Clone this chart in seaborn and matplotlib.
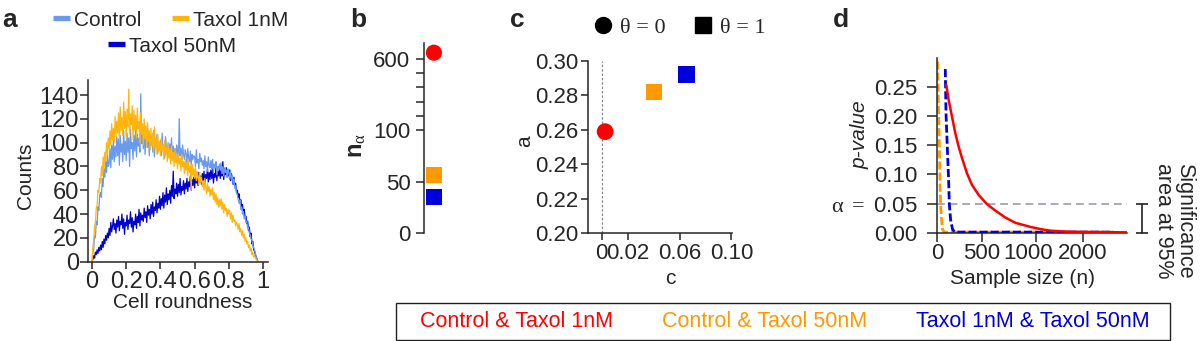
import numpy as np
import pandas as pd
import matplotlib
matplotlib.use("Agg")
import matplotlib.pyplot as plt
import seaborn as sns
from matplotlib.lines import Line2D
from matplotlib.patches import Rectangle
from matplotlib import transforms

# ------------------------------------------------------------------ data
# panel a : histogram counts, bins every 0.005 of cell roundness (0 .. 0.97)
roundness_step = 0.005
control_counts = [
    0, 8, 10, 22, 20, 34, 31, 46, 43, 56,
    58, 54, 70, 63, 78, 71, 84, 75, 90, 80,
    82, 95, 79, 98, 86, 102, 84, 97, 88, 105,
    89, 103, 81, 106, 92, 99, 84, 110, 90, 101,
    85, 108, 92, 104, 80, 111, 95, 100, 86, 106,
    93, 114, 88, 107, 97, 104, 92, 141, 99, 113,
    95, 112, 90, 106, 101, 96, 109, 89, 103, 98,
    105, 92, 110, 88, 101, 96, 107, 91, 99, 94,
    102, 89, 108, 93, 98, 87, 105, 95, 90, 100,
    88, 99, 92, 104, 85, 97, 91, 95, 87, 98,
    93, 84, 120, 89, 95, 83, 98, 90, 86, 94,
    91, 82, 95, 87, 84, 93, 80, 90, 86, 89,
    88, 80, 94, 83, 86, 78, 91, 84, 87, 81,
    85, 78, 89, 80, 84, 76, 88, 81, 79, 85,
    78, 86, 74, 82, 79, 84, 73, 80, 77, 82,
    77, 83, 74, 80, 72, 79, 75, 77, 71, 78,
    75, 69, 77, 70, 72, 66, 69, 62, 64, 58,
    56, 52, 49, 52, 44, 46, 40, 42, 36, 38,
    33, 34, 28, 29, 24, 23, 19, 18, 14, 12,
    10, 7, 4, 2, 0]
taxol1_counts = [
    0, 12, 18, 30, 33, 45, 48, 60, 58, 70,
    66, 80, 72, 88, 78, 92, 85, 100, 90, 104,
    95, 110, 98, 116, 102, 112, 100, 122, 105, 118,
    108, 125, 103, 130, 110, 121, 106, 134, 112, 126,
    104, 128, 113, 145, 108, 124, 115, 131, 102, 127,
    110, 123, 104, 129, 112, 118, 100, 125, 107, 116,
    98, 120, 103, 114, 96, 117, 101, 110, 94, 112,
    97, 108, 92, 113, 95, 104, 90, 107, 93, 101,
    89, 104, 93, 98, 86, 102, 90, 96, 84, 99,
    87, 95, 82, 97, 85, 92, 80, 94, 83, 89,
    78, 91, 82, 87, 76, 90, 80, 84, 74, 86,
    77, 83, 72, 85, 75, 80, 60, 82, 73, 78,
    70, 79, 68, 76, 72, 65, 75, 67, 71, 63,
    68, 60, 70, 62, 57, 66, 59, 63, 55, 61,
    56, 62, 52, 58, 50, 57, 48, 54, 46, 52,
    47, 53, 44, 50, 41, 48, 43, 45, 38, 44,
    40, 43, 36, 41, 33, 39, 34, 35, 30, 33,
    31, 27, 32, 25, 28, 22, 26, 20, 23, 17,
    20, 15, 17, 12, 14, 9, 11, 6, 8, 4,
    5, 3, 2, 1, 0]
taxol50_counts = [
    0, 2, 5, 3, 8, 6, 10, 7, 12, 9,
    14, 10, 17, 12, 19, 15, 22, 18, 24, 20,
    28, 22, 33, 25, 30, 36, 27, 32, 24, 35,
    29, 38, 26, 34, 31, 40, 28, 36, 23, 33,
    30, 39, 27, 35, 32, 42, 29, 37, 25, 34,
    31, 40, 28, 38, 33, 44, 30, 41, 35, 39,
    34, 45, 37, 42, 33, 47, 39, 44, 36, 48,
    40, 50, 38, 46, 43, 52, 41, 49, 45, 55,
    44, 53, 47, 58, 45, 56, 50, 62, 48, 57,
    52, 60, 49, 64, 55, 76, 53, 61, 57, 66,
    55, 65, 58, 70, 56, 63, 60, 68, 57, 66,
    61, 70, 59, 67, 63, 72, 60, 69, 64, 71,
    62, 73, 66, 70, 64, 75, 67, 72, 65, 74,
    68, 76, 65, 73, 70, 78, 67, 75, 69, 77,
    70, 78, 66, 74, 71, 80, 68, 76, 72, 78,
    70, 77, 72, 84, 69, 76, 73, 79, 71, 75,
    72, 77, 68, 74, 70, 65, 71, 62, 66, 58,
    60, 54, 57, 50, 52, 46, 48, 41, 44, 37,
    38, 32, 34, 26, 29, 21, 24, 15, 17, 10,
    9, 6, 4, 2, 0]
conditions = ["Control", "Taxol 1nM", "Taxol 50nM"]

# panels b, c : one point per pair of conditions
pairs = ["Control & Taxol 1nM", "Control & Taxol 50nM", "Taxol 1nM & Taxol 50nM"]
theta = [0, 1, 1]
n_alpha = [644, 56, 35]
c_values = [0.0026, 0.0403, 0.0655]
a_values = [0.259, 0.282, 0.292]

# panel d : p-value versus sample size
red_n = [103, 129, 167, 203, 240, 278, 333, 389, 462, 546, 622, 715, 807, 945,
         1100, 1300, 1600, 2000, 2930]
red_p = [0.254, 0.228, 0.199, 0.171, 0.148, 0.128, 0.102, 0.082, 0.065, 0.049,
         0.038, 0.026, 0.017, 0.010, 0.006, 0.0035, 0.002, 0.0012, 0.0006]
orange_n = [7, 11, 18, 26, 33, 40, 51, 62, 84, 2650]
orange_p = [0.294, 0.262, 0.205, 0.148, 0.091, 0.049, 0.022, 0.005, 0.001, 0.001]
blue_n = [92, 100, 114, 129, 137, 151, 174, 203, 2650]
blue_p = [0.281, 0.205, 0.148, 0.091, 0.049, 0.022, 0.005, 0.001, 0.001]
alpha_level = 0.05

# ------------------------------------------------------------------ style
hist_colors = {"Control": "#6A9AEE", "Taxol 1nM": "#FFB50D", "Taxol 50nM": "#0000CD"}
pair_colors = ["#FF0000", "#FF9900", "#0000DD"]

sns.set_style("ticks")
plt.rcParams["font.family"] = ["Liberation Sans", "DejaVu Sans"]
plt.rcParams["font.size"] = 15
plt.rcParams["xtick.labelsize"] = 16
plt.rcParams["ytick.labelsize"] = 16
plt.rcParams["axes.linewidth"] = 1.1
plt.rcParams["xtick.major.width"] = 1.1
plt.rcParams["ytick.major.width"] = 1.1
plt.rcParams["mathtext.fontset"] = "custom"
plt.rcParams["mathtext.rm"] = "Liberation Serif"
plt.rcParams["mathtext.it"] = "Liberation Serif:italic"
plt.rcParams["mathtext.bf"] = "Liberation Sans:bold"

W, H = 1200, 341
fig = plt.figure(figsize=(W / 100, H / 100), dpi=100)


def box(left, top, right, bottom):
    return [left / W, 1 - bottom / H, (right - left) / W, (bottom - top) / H]


def piecewise(knots_v, knots_p):
    kv = np.asarray(knots_v, float)
    kp = np.asarray(knots_p, float)
    return (lambda v: np.interp(v, kv, kp)), (lambda p: np.interp(p, kp, kv))


# ------------------------------------------------------------------ panel a
ax_a = fig.add_axes(box(88, 80, 268, 261.7))
rows = []
for cond, counts in zip(conditions, [control_counts, taxol1_counts, taxol50_counts]):
    for i, v in enumerate(counts):
        rows.append((cond, round(i * roundness_step, 3), v))
df_a = pd.DataFrame(rows, columns=["condition", "roundness", "count"])
sns.lineplot(data=df_a, x="roundness", y="count", hue="condition",
             hue_order=["Taxol 50nM", "Control", "Taxol 1nM"], palette=hist_colors,
             lw=0.9, legend=False, estimator=None, ax=ax_a)
ax_a.set_xlim(-0.0234, 1.029)
ax_a.set_ylim(0, 152.6)
ax_a.set_xticks([0, 0.2, 0.4, 0.6, 0.8, 1.0])
ax_a.set_xticklabels(["0", "0.2", "0.4", "0.6", "0.8", "1"])
ax_a.set_yticks(np.arange(0, 141, 20))
ax_a.set_xlabel("")
ax_a.set_ylabel("")
ax_a.tick_params(axis="y", length=5.8, pad=0.7, labelsize=17)
ax_a.tick_params(axis="x", length=4.8, pad=2, labelsize=17)
sns.despine(ax=ax_a)
fig.text(26 / W, 1 - 176 / H, "Counts", rotation=90, ha="center", va="center")
fig.text(183 / W, 1 - 303 / H, "Cell roundness", ha="center", va="center")

hl = [Line2D([], [], color=hist_colors[c], lw=3.8, solid_capstyle="butt") for c in conditions]
leg_kw = dict(frameon=False, handlelength=0.8, handletextpad=0.2, columnspacing=1.5,
              borderpad=0, borderaxespad=0, fontsize=15, loc="center left")
fig.legend(hl[:2], conditions[:2], ncol=2, bbox_to_anchor=(53 / W, 1 - 20 / H), **leg_kw)
fig.legend(hl[2:], conditions[2:], bbox_to_anchor=(108 / W, 1 - 46 / H), **leg_kw)

# ------------------------------------------------------------------ panels b and c data
df_bc = pd.DataFrame({"pair": pairs, "theta": theta, "n_alpha": n_alpha,
                      "c": c_values, "a": a_values, "pos": [0, 0, 0]})
marker_map = {0: "o", 1: "s"}

# ------------------------------------------------------------------ panel b
ax_b = fig.add_axes(box(424, 43.3, 446, 233.3))
fb, ib = piecewise([-1000, 0, 100, 600, 5000], [-1033, 0, 103.3, 174.3, 799.1])
ax_b.set_yscale("function", functions=(fb, ib))
sns.scatterplot(data=df_bc, x="pos", y="n_alpha", hue="pair", style="theta",
                markers=marker_map, palette=pair_colors, s=135, linewidth=0,
                legend=False, ax=ax_b, clip_on=False)
ax_b.set_ylim(0, 710)
ax_b.set_xlim(-0.45, 0.55)
ax_b.set_yticks([0, 50, 100, 200, 300, 400, 500, 600])
ax_b.set_yticklabels(["0", "50", "100", "", "", "", "", "600"])
ax_b.set_xticks([])
ax_b.set_xlabel("")
ax_b.set_ylabel("")
ax_b.tick_params(axis="y", length=5.8, pad=4.0)
sns.despine(ax=ax_b, bottom=True)
fig.text(357 / W, 1 - 146 / H, r"$\mathbf{n}_{\mathrm{\alpha}}$", rotation=90,
         ha="center", va="center", fontsize=17)

# ------------------------------------------------------------------ panel c
ax_c = fig.add_axes(box(588, 61, 732, 233.3))
ax_c.axvline(0, color="#8a8a8a", lw=0.9, ls=(0, (2, 1.5)), zorder=0)
sns.scatterplot(data=df_bc, x="c", y="a", hue="pair", style="theta",
                markers=marker_map, palette=pair_colors, s=145, linewidth=0,
                legend=False, ax=ax_c, clip_on=False, zorder=3)
ax_c.set_xlim(-0.0106, 0.1005)
ax_c.set_ylim(0.2, 0.3)
ax_c.set_xticks([0, 0.02, 0.06, 0.10])
ax_c.set_xticklabels(["0", "0.02", "0.06", "0.10"])
ax_c.set_yticks([0.20, 0.22, 0.24, 0.26, 0.28, 0.30])
ax_c.set_yticklabels(["0.20", "0.22", "0.24", "0.26", "0.28", "0.30"])
ax_c.set_xlabel("")
ax_c.set_ylabel("")
ax_c.tick_params(axis="both", length=4.8, pad=2.0)
sns.despine(ax=ax_c)
fig.text(525 / W, 1 - 141 / H, "a", rotation=90, ha="center", va="center")
fig.text(670 / W, 1 - 279 / H, "c", ha="center", va="center")
th = [Line2D([], [], color="black", marker=m, ls="none", markersize=11.5) for m in ["o", "s"]]
fig.legend(th, ["θ = 0", "θ = 1"], ncol=2, loc="center left",
           bbox_to_anchor=(592 / W, 1 - 28 / H), frameon=False, handlelength=1.0,
           handletextpad=0.25, columnspacing=1.2, borderpad=0, borderaxespad=0,
           prop={"family": "Liberation Serif", "size": 16})

# ------------------------------------------------------------------ panel d
ax_d = fig.add_axes(box(937, 58, 1127, 232.7))
fd, idd = piecewise([-1000, 0, 500, 1000, 2000, 10000], [-90, 0, 45, 99.3, 146, 519.6])
ax_d.set_xscale("function", functions=(fd, idd))
ax_d.axhline(alpha_level, color="#a9a9ba", lw=1.4, ls=(0, (4, 2.5)), zorder=1)
sns.lineplot(x=orange_n, y=orange_p, color=pair_colors[1], lw=2.0,
             linestyle=(0, (2.9, 1.1)), ax=ax_d, zorder=2)
sns.lineplot(x=blue_n, y=blue_p, color=pair_colors[2], lw=2.0,
             linestyle=(0, (2.9, 1.1)), ax=ax_d, zorder=3)
sns.lineplot(x=red_n, y=red_p, color=pair_colors[0], lw=1.8, ax=ax_d, zorder=4)
ax_d.set_xlim(0, 2940)
ax_d.set_ylim(0, 0.30)
ax_d.set_xticks([0, 500, 1000, 2000])
ax_d.set_xticklabels(["0", "500", "1000", "2000"])
ax_d.set_yticks([0, 0.05, 0.10, 0.15, 0.20, 0.25])
ax_d.set_yticklabels(["0.00", r"$\mathrm{\alpha\ =}$ 0.05", "0.10", "0.15", "0.20", "0.25"])
ax_d.set_xlabel("")
ax_d.set_ylabel("")
ax_d.tick_params(axis="y", length=7.2, pad=7.0)
ax_d.tick_params(axis="x", length=6.5, pad=1)
sns.despine(ax=ax_d)
# the "1000" label sits a little left of its tick in the original
lbl_1000 = ax_d.get_xticklabels()[2]
lbl_1000.set_transform(lbl_1000.get_transform()
                       + transforms.ScaledTranslation(-0.08, 0, fig.dpi_scale_trans))
fig.text(860 / W, 1 - 135 / H, "p-value", rotation=90, style="italic",
         ha="center", va="center")
fig.text(1022 / W, 1 - 278 / H, "Sample size (n)", ha="center", va="center")

trans = transforms.blended_transform_factory(ax_d.transAxes, ax_d.transData)
ax_d.plot([1.0774, 1.0774], [0, alpha_level], transform=trans, color="#222222", lw=1.2,
          marker="_", markersize=8, mew=1.2, clip_on=False)
fig.text(1174 / W, 1 - 163 / H, "Significance\narea at 95%", rotation=270,
         ha="center", va="top", multialignment="left", fontsize=15.5, linespacing=1.05)

# ------------------------------------------------------------------ bottom legend
fig.patches.append(Rectangle((396 / W, 1 - 340 / H), 774 / W, 37 / H,
                             transform=fig.transFigure, fill=False,
                             edgecolor="#222222", lw=1.0))
ph = [Line2D([], [], color=c, lw=0) for c in pair_colors]
fig.legend(ph, pairs, ncol=3, mode="expand", loc="center",
           bbox_to_anchor=(420 / W, 1 - 338 / H, 730 / W, 33 / H),
           borderaxespad=0, borderpad=0, handlelength=0, handletextpad=0,
           fontsize=15.5, labelcolor=pair_colors, frameon=False)

# ------------------------------------------------------------------ panel letters
for x, letter in [(2, "a"), (350, "b"), (510, "c"), (833, "d")]:
    fig.text(x / W, 1 - 27 / H, letter, fontsize=19, fontweight="bold", va="baseline")

fig.savefig("out.png", dpi=100)
